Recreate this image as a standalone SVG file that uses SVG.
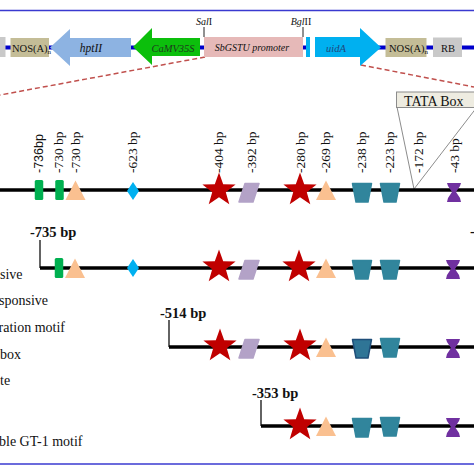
<svg xmlns="http://www.w3.org/2000/svg" width="474" height="474" viewBox="0 0 474 474">
<style>
.serif{font-family:"Liberation Serif","Times New Roman",serif;fill:#111}
.sans{font-family:"Liberation Sans",Arial,sans-serif;fill:#111}
.it{font-style:italic}
.lbl{font-family:"Liberation Serif","Times New Roman",serif;font-size:13.5px;fill:#111}
.bold{font-family:"Liberation Serif","Times New Roman",serif;font-size:14.5px;font-weight:bold;fill:#111}
.leg{font-family:"Liberation Serif","Times New Roman",serif;font-size:14px;fill:#111}
.row{stroke:#000;stroke-width:3.5;fill:none}
.tick{stroke:#222;stroke-width:1.4;fill:none}
.grn{fill:#00b050}
.tri{fill:#fac090}
.dia{fill:#00b0f0}
.star{fill:#c00000}
.par{fill:#b3a2c7;stroke:#b3a2c7;stroke-width:1.5;stroke-linejoin:round}
.trap{fill:#31859c;stroke:#31859c;stroke-width:1.5;stroke-linejoin:round}
.trapd{fill:#2f7596;stroke:#1f4e79;stroke-width:1.5;stroke-linejoin:round}
.hg{fill:#7030a0}
</style>
<defs>
<path id="star" d="M0,-17.5 L4.2,-5.8 L16.6,-5.4 L6.8,2.2 L10.3,14.2 L0,7.2 L-10.3,14.2 L-6.8,2.2 L-16.6,-5.4 L-4.2,-5.8 Z"/>
<rect id="gr" x="-4.25" y="-10" width="8.5" height="20" rx="1.5"/>
<path id="tr" d="M0,-9.5 L10,10 L-10,10 Z"/>
<path id="di" d="M0,-9 L6,0 L0,9 L-6,0 Z"/>
<path id="pa" d="M-4,-8.5 L10,-8.5 L4,10 L-10,10 Z"/>
<path id="tz" d="M-9.5,-8.5 L9.5,-8.5 L6,10 L-6,10 Z"/>
<path id="hg" d="M-7,-9 L7,-9 L6,-6 L2,0 L6,6 L7,10 L-7,10 L-6,6 L-2,0 L-6,-6 Z"/>
</defs>
<rect width="474" height="474" fill="#ffffff"/>
<line x1="0" y1="10.5" x2="474" y2="10.5" stroke="#3a3ad0" stroke-width="1.5"/>
<line x1="0" y1="464" x2="474" y2="464" stroke="#3a3ad0" stroke-width="1.5"/>

<g id="connectors">
<line x1="0" y1="47.5" x2="310" y2="47.5" stroke="#0000cc" stroke-width="4"/>
<line x1="355" y1="47.5" x2="474" y2="47.5" stroke="#0000cc" stroke-width="4"/>
<line x1="204" y1="27" x2="204" y2="37" stroke="#222" stroke-width="1"/>
<line x1="303" y1="27" x2="303" y2="37" stroke="#222" stroke-width="1"/>
<line x1="205" y1="57" x2="0" y2="95" stroke="#c0504d" stroke-width="1.5" stroke-dasharray="5,3"/>
<line x1="361" y1="65" x2="474" y2="87" stroke="#c0504d" stroke-width="1.5" stroke-dasharray="5,3"/>
<polyline points="397,107 414,189 477,107" fill="none" stroke="#8c8c8c" stroke-width="1"/>
<line class="row" x1="0" y1="190" x2="474" y2="190"/>
<polyline class="tick" points="40,240 40,268"/>
<line class="row" x1="40" y1="268" x2="474" y2="268"/>
<polyline class="tick" points="169,320 169,347"/>
<line class="row" x1="169" y1="347" x2="474" y2="347"/>
<polyline class="tick" points="261,400 261,426" stroke="#555"/>
<line class="row" x1="261" y1="426" x2="474" y2="426"/>
</g>

<g id="construct">
<g id="lb"><rect x="-2" y="37" width="7.5" height="20" fill="#c9c9c9"/></g>
<g id="nos1"><rect x="10.5" y="38" width="38.5" height="19" fill="#c4bd97"/>
<text class="serif" x="12" y="52" font-size="10.5">NOS(A)<tspan font-size="7" dy="2">n</tspan></text></g>
<g id="hptII"><path d="M50,47.5 L70,29 L70,38 L131,38 L131,57 L70,57 L70,66 Z" fill="#8db3e2"/>
<text class="serif it" x="91" y="52" font-size="11.5" text-anchor="middle">hptII</text></g>
<g id="camv"><path d="M133,47 L152,28 L152,38 L200,38 L200,56 L152,56 L152,65 Z" fill="#0cbf0c"/>
<text class="serif it" x="173" y="51.5" font-size="10.5" text-anchor="middle" style="fill:#1e3a1e">CaMV35S</text></g>
<g id="promoter"><rect x="204" y="37" width="99" height="20" fill="#e6b9b8"/>
<text class="serif it" x="252" y="51" font-size="10" text-anchor="middle">SbGSTU promoter</text></g>
<g id="sal"><text class="serif" x="204" y="25" font-size="10" text-anchor="middle"><tspan font-style="italic">Sal</tspan>I</text></g>
<g id="bgl"><text class="serif" x="301" y="25" font-size="10" text-anchor="middle"><tspan font-style="italic">Bgl</tspan>II</text></g>
<g id="spacer"><rect x="306" y="37" width="4" height="20" fill="#00b0f0"/></g>
<g id="uidA"><path d="M315,37 L360,37 L360,28 L381,47.5 L360,66 L360,57 L315,57 Z" fill="#00b0f0"/>
<text class="serif it" x="336" y="51.5" font-size="10.5" text-anchor="middle" style="fill:#1f497d">uidA</text></g>
<g id="nos2"><rect x="385.5" y="38" width="41" height="19" fill="#c4bd97"/>
<text class="serif" x="389" y="52" font-size="10.5">NOS(A)<tspan font-size="7" dy="2">n</tspan></text></g>
<g id="rb"><rect x="433" y="37.5" width="29" height="19.5" fill="#c9c9c9"/>
<text class="serif" x="448" y="51.5" font-size="10.5" text-anchor="middle">RB</text></g>
</g>

<g id="tata"><rect x="396.5" y="92" width="85" height="15.5" fill="#eeece1" stroke="#8c8c8c" stroke-width="1"/>
<text class="serif" x="404" y="105.5" font-size="14">TATA Box</text></g>

<g id="labels">
<text class="sans" font-size="12.5" transform="translate(43,173) rotate(-90)">-736bp</text>
<text class="lbl" transform="translate(63,173) rotate(-90)">-730 bp</text>
<text class="lbl" transform="translate(80,173) rotate(-90)">-730 bp</text>
<text class="lbl" transform="translate(137,173) rotate(-90)">-623 bp</text>
<text class="lbl" transform="translate(223,173) rotate(-90)">-404 bp</text>
<text class="lbl" transform="translate(256,173) rotate(-90)">-392 bp</text>
<text class="lbl" transform="translate(305,173) rotate(-90)">-280 bp</text>
<text class="lbl" transform="translate(330,173) rotate(-90)">-269 bp</text>
<text class="lbl" transform="translate(366,173) rotate(-90)">-238 bp</text>
<text class="lbl" transform="translate(394,173) rotate(-90)">-223 bp</text>
<text class="lbl" transform="translate(423,173) rotate(-90)">-172 bp</text>
<text class="lbl" transform="translate(459,173) rotate(-90)">-43 bp</text>
</g>

<g id="row1">
<use href="#gr" class="grn" x="39" y="190"/>
<use href="#gr" class="grn" x="59.5" y="190"/>
<use href="#tr" class="tri" x="75.5" y="190"/>
<use href="#di" class="dia" x="133" y="191"/>
<use href="#star" class="star" x="219" y="190"/>
<use href="#pa" class="par" x="249" y="192"/>
<use href="#star" class="star" x="300" y="190"/>
<use href="#tr" class="tri" x="326" y="190"/>
<use href="#tz" class="trap" x="362" y="192"/>
<use href="#tz" class="trap" x="390" y="192"/>
<use href="#hg" class="hg" x="454" y="192"/>
</g>

<g id="row2">
<text class="bold" x="30" y="237">-735 bp</text>
<use href="#gr" class="grn" x="59" y="268"/>
<use href="#tr" class="tri" x="75" y="268"/>
<use href="#di" class="dia" x="133" y="268"/>
<use href="#star" class="star" x="219" y="267"/>
<use href="#pa" class="par" x="249" y="269"/>
<use href="#star" class="star" x="299" y="267"/>
<use href="#tr" class="tri" x="326" y="268"/>
<use href="#tz" class="trap" x="362" y="269"/>
<use href="#tz" class="trap" x="390" y="269"/>
<use href="#hg" class="hg" x="453" y="269"/>
<text class="bold" x="470" y="236">-</text>
</g>

<g id="row3">
<text class="bold" x="160" y="318">-514 bp</text>
<use href="#star" class="star" x="220" y="346"/>
<use href="#pa" class="par" x="249" y="348"/>
<use href="#star" class="star" x="300" y="346"/>
<use href="#tr" class="tri" x="326" y="347"/>
<use href="#tz" class="trapd" x="362" y="348"/>
<use href="#tz" class="trap" x="390" y="347"/>
<use href="#hg" class="hg" x="453" y="348"/>
</g>

<g id="row4">
<text class="bold" x="252" y="398">-353 bp</text>
<use href="#star" class="star" x="300" y="425"/>
<use href="#tr" class="tri" x="326" y="426"/>
<use href="#tz" class="trap" x="362" y="427"/>
<use href="#tz" class="trap" x="390" y="426"/>
<use href="#hg" class="hg" x="453" y="427"/>
</g>

<g id="legend">
<text class="leg" x="0" y="279">sive</text>
<text class="leg" x="-1" y="305">sponsive</text>
<text class="leg" x="-1.5" y="332">ration motif</text>
<text class="leg" x="0" y="359">box</text>
<text class="leg" x="0" y="385">te</text>
<text class="leg" x="-1" y="446">ble GT-1 motif</text>
</g>
</svg>
